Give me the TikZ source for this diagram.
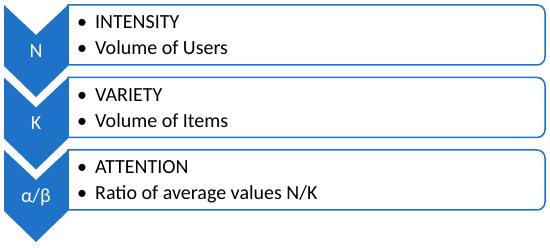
\documentclass[tikz,border=0pt]{standalone}
\usepackage{fontspec}
\setmainfont{Carlito}
\usepackage{xcolor}
\usepackage{tikz}
\usetikzlibrary{positioning,calc}
\definecolor{chevblue}{RGB}{30,114,200}
\newcommand{\rowfont}{\fontsize{20}{24}\selectfont}

\begin{document}
\begin{tikzpicture}[x=1pt,y=1pt]
  \useasboundingbox (0,0) rectangle (550,-248);
  \foreach \i/\sym/\first/\second in {0/N/INTENSITY/Volume of Users,
                                      1/K/VARIETY/Volume of Items,
                                      2/{α/β}/ATTENTION/{Ratio of average values N/K}}{
    \pgfmathsetmacro{\t}{-5-72.5*\i}
    % Text box
    \draw[chevblue,line width=1.5pt,fill=white]
          (68,\t) -- (537,\t) arc[start angle=90,end angle=0,radius=8]
          -- (545,\t-52) arc[start angle=0,end angle=-90,radius=8]
          -- (68,\t-60) -- cycle;
    % Chevron
    \fill[chevblue] (4,\t) -- (36,\t-30) -- (68,\t) -- (68,\t-61)
          -- (36,\t-92) -- (4,\t-61) -- cycle;
    \node[anchor=base,text=white,font=\rowfont] (sym-\i) at (36,\t-52.5) {\sym};
    % Bullets
    \node[anchor=base,font=\rowfont] (dot-a-\i) at (82,\t-24) {•};
    \node[anchor=base west,font=\rowfont,inner xsep=0pt] (first-\i) at (95,\t-24) {\first};
    \node[anchor=base,font=\rowfont] (dot-b-\i) at (82,\t-50) {•};
    \node[anchor=base west,font=\rowfont,inner xsep=0pt] (second-\i) at (95,\t-50) {\second};
  }
\end{tikzpicture}
\end{document}
